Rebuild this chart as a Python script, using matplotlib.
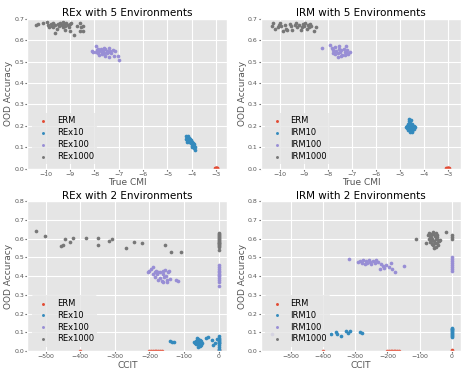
import matplotlib
matplotlib.use("Agg")
import matplotlib.pyplot as plt

plt.style.use("ggplot")

# ---------------- REx with 5 environments (True CMI) ----------------
rex5_erm_x = [-3.05, -3.02, -3.0, -2.97, -2.95, -3.0]
rex5_erm_y = [0.002, 0.003, 0.002, 0.003, 0.002, 0.004]
rex5_10_x = [-4.25, -4.2, -4.15, -4.2, -4.15, -4.1, -4.1, -4.05, -4.05, -4.0, -4.0, -3.95, -3.95,
             -3.9, -3.9, -3.88, -3.92, -3.88, -4.12, -4.18, -4.08, -4.02, -3.98, -4.25, -4.0]
rex5_10_y = [0.15, 0.145, 0.15, 0.135, 0.14, 0.135, 0.125, 0.13, 0.12, 0.125, 0.115, 0.12, 0.11,
             0.115, 0.105, 0.1, 0.095, 0.085, 0.145, 0.125, 0.14, 0.135, 0.105, 0.14, 0.1]
rex5_100_x = [-8.1, -8.05, -7.95, -7.9, -7.85, -7.8, -7.75, -7.7, -7.65, -7.6, -7.55, -7.5, -7.45,
              -7.4, -7.35, -7.3, -7.25, -7.55, -7.4, -7.2, -7.05, -7.0, -7.15, -7.85, -7.7, -7.6,
              -7.95, -7.8, -7.5, -7.65]
rex5_100_y = [0.55, 0.545, 0.575, 0.555, 0.54, 0.55, 0.56, 0.545, 0.555, 0.54, 0.56, 0.55, 0.545,
              0.565, 0.55, 0.54, 0.555, 0.525, 0.52, 0.525, 0.525, 0.51, 0.55, 0.56, 0.535, 0.565,
              0.545, 0.53, 0.54, 0.545]
rex5_1000_x = [-10.4, -10.3, -10.1, -9.95, -9.9, -9.8, -9.75, -9.7, -9.6, -9.55, -9.5, -9.45, -9.4,
               -9.35, -9.3, -9.25, -9.2, -9.15, -9.1, -9.05, -9.0, -8.95, -9.2, -9.6, -9.0, -8.85,
               -8.7, -8.6, -8.55, -8.45, -8.6, -8.45, -9.3, -9.7, -9.85]
rex5_1000_y = [0.67, 0.675, 0.68, 0.685, 0.67, 0.675, 0.665, 0.68, 0.67, 0.655, 0.675, 0.665, 0.68,
               0.67, 0.66, 0.675, 0.665, 0.68, 0.67, 0.66, 0.675, 0.68, 0.65, 0.635, 0.645, 0.625,
               0.665, 0.68, 0.66, 0.665, 0.645, 0.645, 0.685, 0.66, 0.66]

# ---------------- IRM with 5 environments (True CMI) ----------------
irm5_erm_x = [-3.05, -3.02, -3.0, -2.97, -2.95, -3.0]
irm5_erm_y = [0.002, 0.003, 0.002, 0.003, 0.002, 0.004]
irm5_10_x = [-4.7, -4.68, -4.65, -4.62, -4.6, -4.6, -4.58, -4.55, -4.55, -4.52, -4.5, -4.5, -4.48,
             -4.45, -4.42, -4.4, -4.62, -4.58, -4.65, -4.47, -4.53, -4.38, -4.72, -4.57]
irm5_10_y = [0.2, 0.19, 0.21, 0.2, 0.22, 0.185, 0.195, 0.205, 0.18, 0.19, 0.2, 0.175, 0.21,
             0.19, 0.2, 0.185, 0.23, 0.215, 0.18, 0.17, 0.225, 0.195, 0.195, 0.17]
irm5_100_x = [-8.25, -7.9, -7.85, -7.8, -7.75, -7.7, -7.65, -7.6, -7.55, -7.5, -7.45, -7.4, -7.35,
              -7.3, -7.25, -7.2, -7.15, -7.1, -7.6, -7.45, -7.7, -7.8, -7.55, -7.3, -7.2]
irm5_100_y = [0.565, 0.58, 0.565, 0.555, 0.545, 0.57, 0.55, 0.54, 0.56, 0.545, 0.555, 0.53, 0.56,
              0.545, 0.575, 0.555, 0.535, 0.545, 0.52, 0.525, 0.535, 0.54, 0.575, 0.53, 0.54]
irm5_1000_x = [-10.35, -10.3, -10.2, -10.1, -10.05, -9.95, -9.9, -9.8, -9.75, -9.6, -9.55, -9.5,
               -9.4, -9.35, -9.3, -9.2, -9.1, -9.05, -9.0, -8.95, -8.9, -8.85, -8.8, -8.7, -8.6,
               -8.5, -9.7, -9.15, -8.75, -10.0]
irm5_1000_y = [0.665, 0.68, 0.655, 0.66, 0.67, 0.665, 0.645, 0.67, 0.655, 0.675, 0.665, 0.65,
               0.67, 0.68, 0.66, 0.67, 0.66, 0.675, 0.665, 0.68, 0.655, 0.67, 0.66, 0.665, 0.645,
               0.66, 0.65, 0.65, 0.675, 0.68]

# ---------------- REx with 2 environments (CCIT) ----------------
rex2_erm_x = [-400, -200, -195, -190, -185, -180, -175, -170, -165, 0, 0]
rex2_erm_y = [0.0, 0.0, 0.0, 0.0, 0.0, 0.0, 0.0, 0.0, 0.0, 0.0, 0.003]
rex2_10_x = [-140, -135, -130, -70, -68, -66, -64, -62, -60, -58, -56, -55, -54, -52, -50, -48,
             -62, -58, -54, -66, -60, -56, -52, -35, -30, -20, -15, -10, -5,
             0, 0, 0, 0, 0, 0, 0, 0, 0, 0, 0, 0]
rex2_10_y = [0.052, 0.05, 0.05, 0.05, 0.045, 0.055, 0.04, 0.06, 0.035, 0.065, 0.03, 0.05, 0.025,
             0.045, 0.055, 0.04, 0.07, 0.02, 0.06, 0.035, 0.045, 0.05, 0.03, 0.07, 0.075, 0.06,
             0.03, 0.04, 0.065, 0.005, 0.01, 0.02, 0.03, 0.04, 0.045, 0.05, 0.055, 0.06, 0.065,
             0.07, 0.08]
rex2_100_x = [-205, -200, -195, -190, -185, -180, -178, -175, -170, -168, -165, -162, -160, -158,
              -155, -152, -150, -148, -145, -142, -140, -190, -185, -175, -122, -118, -160,
              0, 0, 0, 0, 0, 0, 0, 0, 0, 0, 0, 0]
rex2_100_y = [0.425, 0.43, 0.44, 0.45, 0.42, 0.43, 0.41, 0.425, 0.42, 0.39, 0.375, 0.43, 0.41,
              0.395, 0.435, 0.4, 0.38, 0.37, 0.42, 0.43, 0.385, 0.41, 0.395, 0.38, 0.38, 0.375,
              0.37, 0.35, 0.37, 0.38, 0.39, 0.4, 0.41, 0.42, 0.43, 0.44, 0.45, 0.46, 0.405]
rex2_1000_x = [-527, -501, -455, -450, -445, -430, -421, -384, -350, -350, -316, -309, -267, -244,
               -221, -155, -138, -110,
               0, 0, 0, 0, 0, 0, 0, 0, 0, 0, 0, 0, 0, 0, 0, 0, 0]
rex2_1000_y = [0.642, 0.613, 0.561, 0.565, 0.601, 0.583, 0.606, 0.606, 0.606, 0.569, 0.588, 0.601,
               0.551, 0.585, 0.576, 0.567, 0.528, 0.531,
               0.54, 0.555, 0.56, 0.565, 0.57, 0.575, 0.58, 0.585, 0.59, 0.595, 0.6, 0.605, 0.61,
               0.615, 0.62, 0.625, 0.63]

# ---------------- IRM with 2 environments (CCIT) ----------------
irm2_erm_x = [-400, -200, -195, -190, -185, -180, -175, -170, -165, 0, 0]
irm2_erm_y = [0.0, 0.0, 0.0, 0.0, 0.0, 0.0, 0.0, 0.0, 0.0, 0.0, 0.005]
irm2_10_x = [-376, -361, -358, -344, -329, -322, -315, -286, -279,
             0, 0, 0, 0, 0, 0, 0, 0, 0, 0, 0]
irm2_10_y = [0.092, 0.1, 0.09, 0.08, 0.105, 0.095, 0.105, 0.1, 0.095,
             0.075, 0.08, 0.085, 0.09, 0.095, 0.1, 0.105, 0.11, 0.115, 0.12, 0.125]
irm2_100_x = [-560, -320, -290, -285, -280, -275, -270, -268, -262, -258, -255, -250, -245, -240,
              -235, -228, -222, -220, -215, -210, -205, -195, -190, -185, -178, -150,
              0, 0, 0, 0, 0, 0, 0, 0]
irm2_100_y = [0.09, 0.49, 0.475, 0.48, 0.47, 0.485, 0.465, 0.48, 0.47, 0.485, 0.475, 0.465, 0.48,
              0.47, 0.485, 0.475, 0.44, 0.465, 0.455, 0.445, 0.46, 0.45, 0.47, 0.44, 0.425, 0.455,
              0.43, 0.44, 0.45, 0.46, 0.47, 0.48, 0.49, 0.5]
irm2_1000_x = [-110, -18, -75, -72, -70, -68, -65, -63, -60, -58, -57, -55, -53, -52, -50, -48,
               -47, -45, -43, -42, -40, -55, -62, -68, -58, -50, -45, -35, -80, -65, 0, 0, 0]
irm2_1000_y = [0.598, 0.637, 0.62, 0.6, 0.63, 0.585, 0.61, 0.625, 0.6, 0.565, 0.635, 0.59, 0.615,
               0.575, 0.6, 0.555, 0.62, 0.58, 0.595, 0.565, 0.59, 0.55, 0.57, 0.615, 0.625, 0.63,
               0.61, 0.595, 0.58, 0.59, 0.6, 0.61, 0.62]

colors = ["#E24A33", "#348ABD", "#988ED5", "#777777"]

panels = [
    ("REx with 5 Environments", "True CMI", "REx",
     [(rex5_erm_x, rex5_erm_y), (rex5_10_x, rex5_10_y), (rex5_100_x, rex5_100_y), (rex5_1000_x, rex5_1000_y)],
     (-10.75, -2.55), (0, 0.7)),
    ("IRM with 5 Environments", "True CMI", "IRM",
     [(irm5_erm_x, irm5_erm_y), (irm5_10_x, irm5_10_y), (irm5_100_x, irm5_100_y), (irm5_1000_x, irm5_1000_y)],
     (-10.8, -2.45), (0, 0.7)),
    ("REx with 2 Environments", "CCIT", "REx",
     [(rex2_erm_x, rex2_erm_y), (rex2_10_x, rex2_10_y), (rex2_100_x, rex2_100_y), (rex2_1000_x, rex2_1000_y)],
     (-553, 25), (0, 0.8)),
    ("IRM with 2 Environments", "CCIT", "IRM",
     [(irm2_erm_x, irm2_erm_y), (irm2_10_x, irm2_10_y), (irm2_100_x, irm2_100_y), (irm2_1000_x, irm2_1000_y)],
     (-593, 28), (0, 0.8)),
]

fig, axs = plt.subplots(2, 2, figsize=(4.74, 3.79), dpi=100)
fig.subplots_adjust(left=0.058, right=0.972, top=0.95, bottom=0.074, wspace=0.17, hspace=0.22)

for ax, (title, xlab, method, series, xlim, ylim) in zip(axs.flat, panels):
    labels = ["ERM", method + "10", method + "100", method + "1000"]
    for (xs, ys), c, lab in zip(series, colors, labels):
        ax.scatter(xs, ys, s=7, color=c, marker="o", linewidths=0, label=lab)
    ax.set_xlim(*xlim)
    ax.set_ylim(*ylim)
    ax.set_title(title, fontsize=7.5, pad=2)
    ax.set_xlabel(xlab, fontsize=6.5, labelpad=1)
    ax.set_ylabel("OOD Accuracy", fontsize=6.5, labelpad=0.5)
    ax.tick_params(labelsize=4.5, length=1.5, pad=1)
    leg = ax.legend(loc="lower left", fontsize=6, scatterpoints=1, markerscale=0.8,
                    handletextpad=0.6, labelspacing=0.35, borderaxespad=0.5, framealpha=0.8)
    leg.get_frame().set_edgecolor("none")
    leg.get_frame().set_facecolor("#E5E5E5")

plt.savefig("out.png")
